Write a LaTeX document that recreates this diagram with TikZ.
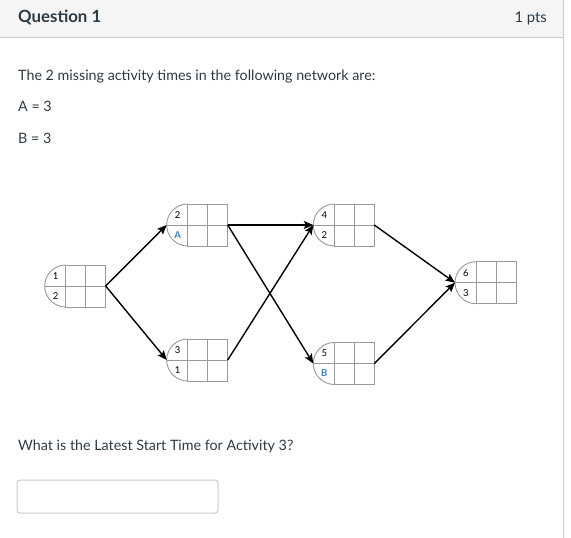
\documentclass[tikz,border=0pt]{standalone}
\usepackage{fontspec}
\setmainfont{Lato}
\usetikzlibrary{arrows.meta,calc}
\definecolor{txt}{HTML}{2D3B45}
\definecolor{bordergray}{HTML}{C7CDD1}
\definecolor{headbg}{HTML}{F5F5F5}
\definecolor{gridgray}{HTML}{999999}
\definecolor{actblue}{HTML}{3A7FC0}
\tikzset{
  gridline/.style={draw=gridgray, line width=0.9pt},
  arr/.style={draw=black, line width=1.4pt, -{Stealth[length=9.5pt,width=8pt,inset=2pt]}},
  small/.style={font=\fontsize{9.5}{11}\selectfont, text=black, inner sep=0pt},
  body/.style={font=\fontsize{14.3}{17}\selectfont, text=txt, inner sep=0pt, anchor=base west},
}
% #1 name, #2 x, #3 y (centre of the half circle), #4 top label, #5 bottom label, #6 bottom label colour
\newcommand\pertbox[6]{%
  \begin{scope}[shift={(#2,#3)}]
    \coordinate (#1w) at (-21,0);
    \coordinate (#1e) at (40,0);
    \draw[gridline] (0,-21) arc[start angle=-90, end angle=-270, radius=21];
    \draw[gridline] (0,-21) rectangle (40,21);
    \draw[gridline] (20,-21) -- (20,21);
    \draw[gridline] (-21,0) -- (40,0);
    \node[small] (#1t) at (-10,-10) {#4};
    \node[small, text=#6] (#1b) at (-10,10) {#5};
  \end{scope}%
}
\begin{document}
\begin{tikzpicture}[x=1pt,y=-1pt]
\useasboundingbox (0,0) rectangle (571,538);
\fill[white] (0,0) rectangle (571,538);
% header
\fill[headbg] (0,0) rectangle (563.5,37.3);
\draw[bordergray, line width=1.3pt] (0,37.3) -- (563.5,37.3);
\draw[bordergray, line width=1.3pt] (563.5,0) -- (563.5,538);
\node[body, font=\fontsize{16.8}{19}\selectfont\bfseries] (qtitle) at (18,22) {Question 1};
\node[body, anchor=base east, font=\fontsize{14.8}{17}\selectfont] (pts) at (547,22) {1 pts};
% text
\node[body] (intro) at (18,80) {The 2 missing activity times in the following network are:};
\node[body] (avalue) at (18,111) {A = 3};
\node[body] (bvalue) at (18,143) {B = 3};
% network
\pertbox{n1}{65.7}{286}{1}{2}{black}
\pertbox{n2}{187.7}{225}{2}{\textbf{A}}{actblue}
\pertbox{n3}{187.7}{360}{3}{1}{black}
\pertbox{n4}{334.3}{225}{4}{2}{black}
\pertbox{n5}{334.3}{363.5}{5}{\textbf{B}}{actblue}
\pertbox{n6}{476}{282.7}{6}{3}{black}
\draw[arr] (n1e) -- (n2w);
\draw[arr] (n1e) -- (n3w);
\draw[arr] (n2e) -- (n4w);
\draw[arr] (n2e) -- (n5w);
\draw[arr] (n3e) -- (n4w);
\draw[arr] (n4e) -- (n6w);
\draw[arr] (n5e) -- (n6w);
% question
\node[body] (question) at (18,450) {What is the Latest Start Time for Activity 3?};
\draw[bordergray, line width=1pt, rounded corners=3pt] (17,480) rectangle (218,513);
\end{tikzpicture}
\end{document}
